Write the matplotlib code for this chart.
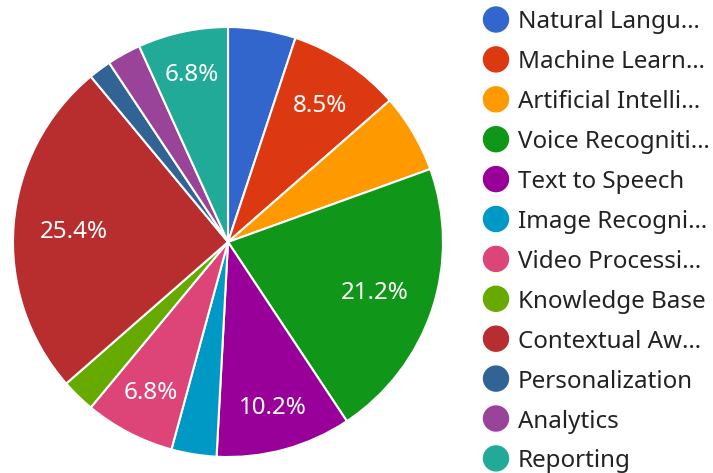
import matplotlib
matplotlib.use("Agg")
import math
import matplotlib.pyplot as plt
from matplotlib.patches import Circle

labels = ["Natural Langu…", "Machine Learn…", "Artificial Intelli…", "Voice Recogniti…",
          "Text to Speech", "Image Recogni…", "Video Processi…", "Knowledge Base",
          "Contextual Aw…", "Personalization", "Analytics", "Reporting"]
values = [6, 10, 7, 25, 12, 4, 8, 3, 30, 2, 3, 8]
colors = ["#3366cc", "#dc3912", "#ff9900", "#109618", "#990099", "#0099c6",
          "#dd4477", "#66aa00", "#b82e2e", "#316395", "#994499", "#22aa99"]

plt.rcParams['font.family'] = ['Noto Sans', 'DejaVu Sans']

W, H = 713, 473
FS = 17.4
fig = plt.figure(figsize=(W/100, H/100), dpi=100)
cx, cy, r = 228, 242, 215
ax = fig.add_axes([(cx - r)/W, (H - cy - r)/H, 2*r/W, 2*r/H])

def fmt(p):
    return f"{p:.1f}%" if p >= 6.5 else ""

wedges, texts, autotexts = ax.pie(values, colors=colors, startangle=90, counterclock=False,
                                  radius=1, autopct=fmt, pctdistance=0.74,
                                  wedgeprops=dict(edgecolor="white", linewidth=1.5),
                                  textprops=dict(color="white", fontsize=FS))
ax.set_xlim(-1, 1); ax.set_ylim(-1, 1)
ax.set_aspect('equal'); ax.axis('off')

# place labels so that the outer corner of the text box sits at a fixed radius
fig.canvas.draw()
renderer = fig.canvas.get_renderer()
cap = 16.6 / r      # cap height in data units
R = 189 / r
for wdg, t in zip(wedges, autotexts):
    if not t.get_text():
        continue
    ang = math.radians((wdg.theta1 + wdg.theta2) / 2)
    ca, sa = math.cos(ang), math.sin(ang)
    bb = t.get_window_extent(renderer)
    hw = bb.width / 2 / r
    hh = cap / 2
    k = abs(ca) * hw + abs(sa) * hh
    d = -k + math.sqrt(k * k - (hw * hw + hh * hh - R * R))
    t.set_position((d * ca, d * sa - hh))
    t.set_va("baseline")

# legend
lax = fig.add_axes([0, 0, 1, 1]); lax.set_xlim(0, W); lax.set_ylim(H, 0); lax.axis('off')
y0, dy = 19.5, 39.9
for i, (lab, col) in enumerate(zip(labels, colors)):
    y = y0 + i*dy
    lax.add_patch(Circle((496, y), 12.5, color=col))
    lax.text(518, y, lab, fontsize=FS, color="#222222", va="center_baseline", ha="left")

fig.savefig("out.png", dpi=100)
